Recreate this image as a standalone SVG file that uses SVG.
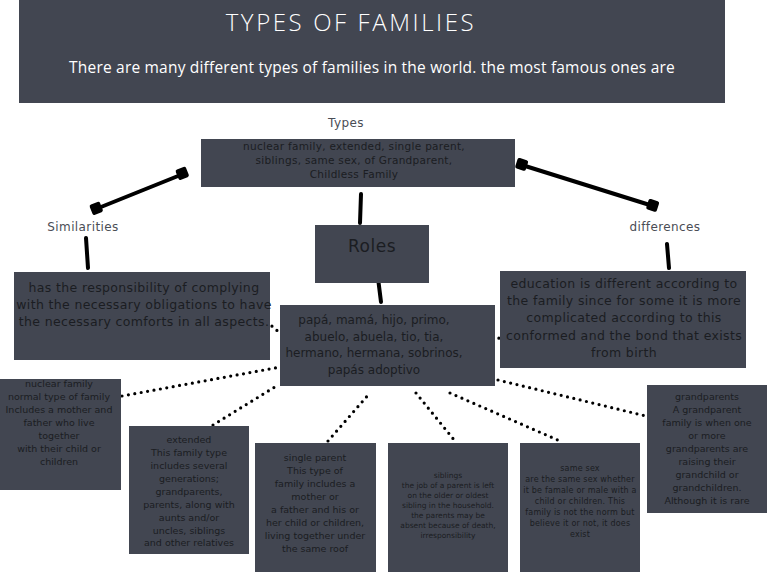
<svg xmlns="http://www.w3.org/2000/svg" width="768" height="576" viewBox="0 0 768 576">
<style>
.box{fill:#424651}
.t{font-family:"DejaVu Sans",sans-serif;fill:#1b1d22;text-anchor:middle}
.lbl{font-family:"DejaVu Sans",sans-serif;fill:#4a4d55;text-anchor:middle;font-size:12px;letter-spacing:0.4px}
.solid{stroke:#000;stroke-width:4;stroke-linecap:round;fill:none}
.dot{stroke:#000;stroke-width:3.2;stroke-linecap:round;stroke-dasharray:0 6.5;fill:none}
.end{fill:#000}
</style>
<g id="header">
<rect class="box" x="19" y="0" width="706" height="103"/>
<text x="351" y="31" font-family="'Open Sans',sans-serif" font-size="24" font-weight="300" fill="#fff" text-anchor="middle" letter-spacing="2.6">TYPES OF FAMILIES</text>
<text x="372" y="73" font-family="'Open Sans',sans-serif" font-size="15.5" fill="#fff" text-anchor="middle" letter-spacing="0.2">There are many different types of families in the world. the most famous ones are</text>
</g>
<g id="connectors">
<line class="solid" x1="183" y1="174" x2="96" y2="209"/>
<rect class="end" x="177" y="168" width="11" height="11" rx="2" transform="rotate(-22 182 174)"/>
<rect class="end" x="91" y="203" width="11" height="11" rx="2" transform="rotate(-22 96 209)"/>
<line class="solid" x1="522" y1="165" x2="653" y2="206"/>
<rect class="end" x="516" y="159" width="11" height="11" rx="2" transform="rotate(18 522 165)"/>
<rect class="end" x="647" y="200" width="11" height="11" rx="2" transform="rotate(18 653 206)"/>
<line class="solid" x1="86" y1="238" x2="88" y2="268"/>
<line class="solid" x1="667" y1="244" x2="669" y2="268"/>
<line class="solid" x1="361" y1="194" x2="360" y2="223"/>
<line class="solid" x1="378" y1="278" x2="381" y2="302"/>
<path class="dot" d="M267 322 L280 333"/>
<path class="dot" d="M486 340 L500 338"/>
<path class="dot" d="M122 396 L286 366"/>
<path class="dot" d="M213 425 L278 385"/>
<path class="dot" d="M328 441 L369 394"/>
<path class="dot" d="M416 393 L455 441"/>
<path class="dot" d="M450 393 L560 441"/>
<path class="dot" d="M498 380 L646 416"/>
</g>
<g id="types">
<text class="lbl" x="346" y="127">Types</text>
<rect class="box" x="201" y="139" width="314" height="48"/>
<text class="t" font-size="10.5" letter-spacing="0.3"><tspan x="354" y="150">nuclear family, extended, single parent,</tspan><tspan x="354" y="164">siblings, same sex, of Grandparent,</tspan><tspan x="354" y="178">Childless Family</tspan></text>
</g>
<g id="roles">
<rect class="box" x="315" y="225" width="114" height="58"/>
<text class="t" x="372" y="252" font-size="17" fill="#15171c" letter-spacing="0.5">Roles</text>
</g>
<g id="similarities">
<text class="lbl" x="83" y="231" font-size="12.5">Similarities</text>
<rect class="box" x="14" y="272" width="256" height="88"/>
<text class="t" font-size="12.5" letter-spacing="0.35"><tspan x="144" y="292">has the responsibility of complying</tspan><tspan x="144" y="309">with the necessary obligations to have</tspan><tspan x="144" y="326">the necessary comforts in all aspects.</tspan></text>
</g>
<g id="differences">
<text class="lbl" x="665" y="231" font-size="12.5">differences</text>
<rect class="box" x="500" y="271" width="246" height="97"/>
<text class="t" font-size="12.5" letter-spacing="0.35"><tspan x="624" y="288">education is different according to</tspan><tspan x="624" y="305">the family since for some it is more</tspan><tspan x="624" y="322">complicated according to this</tspan><tspan x="624" y="340">conformed and the bond that exists</tspan><tspan x="624" y="357">from birth</tspan></text>
</g>
<g id="roles-list">
<rect class="box" x="280" y="305" width="215" height="81"/>
<text class="t" font-size="12"><tspan x="374" y="324">papá, mamá, hijo, primo,</tspan><tspan x="374" y="341">abuelo, abuela, tio, tia,</tspan><tspan x="374" y="357">hermano, hermana, sobrinos,</tspan><tspan x="374" y="374">papás adoptivo</tspan></text>
</g>
<g id="nuclear">
<rect class="box" x="0" y="379" width="121" height="111"/>
<text class="t" font-size="9.5"><tspan x="59" y="387">nuclear family</tspan><tspan x="59" y="400">normal type of family</tspan><tspan x="59" y="413">Includes a mother and</tspan><tspan x="59" y="426">father who live</tspan><tspan x="59" y="439">together</tspan><tspan x="59" y="452">with their child or</tspan><tspan x="59" y="465">children</tspan></text>
</g>
<g id="extended">
<rect class="box" x="129" y="426" width="120" height="128"/>
<text class="t" font-size="9.5"><tspan x="189" y="443">extended</tspan><tspan x="189" y="456">This family type</tspan><tspan x="189" y="469">includes several</tspan><tspan x="189" y="482">generations;</tspan><tspan x="189" y="495">grandparents,</tspan><tspan x="189" y="508">parents, along with</tspan><tspan x="189" y="521">aunts and/or</tspan><tspan x="189" y="534">uncles, siblings</tspan><tspan x="189" y="546">and other relatives</tspan></text>
</g>
<g id="single-parent">
<rect class="box" x="255" y="443" width="121" height="129"/>
<text class="t" font-size="9.5"><tspan x="315" y="461">single parent</tspan><tspan x="315" y="474">This type of</tspan><tspan x="315" y="487">family includes a</tspan><tspan x="315" y="500">mother or</tspan><tspan x="315" y="513">a father and his or</tspan><tspan x="315" y="526">her child or children,</tspan><tspan x="315" y="539">living together under</tspan><tspan x="315" y="552">the same roof</tspan></text>
</g>
<g id="siblings">
<rect class="box" x="388" y="443" width="120" height="129"/>
<text class="t" font-size="7.5"><tspan x="448" y="478">siblings</tspan><tspan x="448" y="488">the job of a parent is left</tspan><tspan x="448" y="498">on the older or oldest</tspan><tspan x="448" y="508">sibling in the household.</tspan><tspan x="448" y="518">the parents may be</tspan><tspan x="448" y="528">absent because of death,</tspan><tspan x="448" y="538">irresponsibility</tspan></text>
</g>
<g id="same-sex">
<rect class="box" x="520" y="443" width="120" height="129"/>
<text class="t" font-size="8" letter-spacing="0.2"><tspan x="580" y="471">same sex</tspan><tspan x="580" y="482">are the same sex whether</tspan><tspan x="580" y="493">it be famale or male with a</tspan><tspan x="580" y="504">child or children. This</tspan><tspan x="580" y="515">family is not the norm but</tspan><tspan x="580" y="526">believe it or not, it does</tspan><tspan x="580" y="537">exist</tspan></text>
</g>
<g id="grandparents">
<rect class="box" x="647" y="385" width="120" height="128"/>
<text class="t" font-size="9.5"><tspan x="707" y="400">grandparents</tspan><tspan x="707" y="413">A grandparent</tspan><tspan x="707" y="426">family is when one</tspan><tspan x="707" y="439">or more</tspan><tspan x="707" y="452">grandparents are</tspan><tspan x="707" y="465">raising their</tspan><tspan x="707" y="478">grandchild or</tspan><tspan x="707" y="491">grandchildren.</tspan><tspan x="707" y="504">Although it is rare</tspan></text>
</g>
</svg>
